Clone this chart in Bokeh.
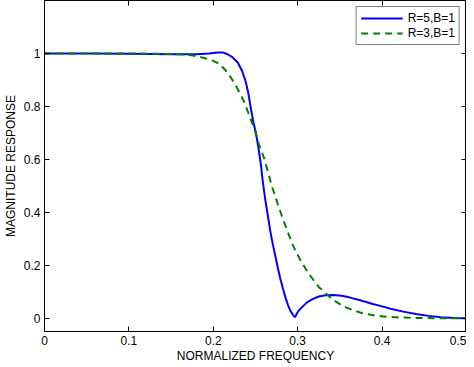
from bokeh.plotting import figure
from bokeh.models import LinearAxis, FixedTicker, Range1d, Legend, LegendItem
from bokeh.embed import file_html
from bokeh.resources import INLINE

# ---- data ----
blue_x = [0.00, 0.05, 0.10, 0.15, 0.18, 0.195, 0.205, 0.211, 0.217, 0.223, 0.229, 0.234,
          0.2385, 0.2415, 0.2445, 0.2475, 0.2505, 0.2535, 0.2565, 0.2585, 0.2615, 0.2645,
          0.2675, 0.2705, 0.2735, 0.2765, 0.2795, 0.2825, 0.2855, 0.2885, 0.2915, 0.2945,
          0.2970, 0.2990, 0.3015, 0.3055, 0.3110, 0.3175, 0.3250, 0.3330, 0.3420, 0.3520,
          0.3610, 0.3750, 0.3890, 0.4000, 0.4100, 0.4250, 0.4400, 0.4550, 0.4700, 0.4850, 0.5000]
blue_y = [1.000, 1.000, 0.999, 0.997, 0.997, 1.000, 1.004, 1.004, 0.997, 0.985, 0.966, 0.935,
          0.892, 0.850, 0.792, 0.740, 0.700, 0.643, 0.578, 0.520, 0.450, 0.390,
          0.330, 0.279, 0.235, 0.190, 0.148, 0.112, 0.078, 0.050, 0.027, 0.012,
          0.004, 0.018, 0.030, 0.043, 0.060, 0.072, 0.082, 0.087, 0.088, 0.085,
          0.079, 0.067, 0.054, 0.045, 0.036, 0.025, 0.016, 0.009, 0.004, 0.001, 0.000]

green_x = [0.00, 0.05, 0.10, 0.15, 0.17, 0.18, 0.19, 0.20, 0.207, 0.2168, 0.2227, 0.2287,
           0.2366, 0.2425, 0.2485, 0.2544, 0.2603, 0.2650, 0.2701, 0.2760, 0.2820, 0.2880,
           0.2938, 0.2990, 0.3045, 0.3136, 0.3255, 0.3340, 0.3410, 0.3490, 0.3570, 0.3670,
           0.3770, 0.3900, 0.4040, 0.4200, 0.4400, 0.4600, 0.4800, 0.5000]
green_y = [1.000, 1.000, 1.000, 0.998, 0.995, 0.990, 0.982, 0.972, 0.961, 0.929, 0.900, 0.867,
           0.817, 0.767, 0.717, 0.654, 0.604, 0.550, 0.492, 0.435, 0.379, 0.328,
           0.279, 0.245, 0.212, 0.166, 0.116, 0.092, 0.072, 0.055, 0.041, 0.029,
           0.019, 0.011, 0.006, 0.003, 0.001, 0.0005, 0.000, 0.000]

series_labels = ["R=5,B=1", "R=3,B=1"]
x_ticks = [0, 0.1, 0.2, 0.3, 0.4, 0.5]
x_tick_labels = ["0", "0.1", "0.2", "0.3", "0.4", "0.5"]
y_ticks = [0, 0.2, 0.4, 0.6, 0.8, 1.0]
y_tick_labels = ["0", "0.2", "0.4", "0.6", "0.8", "1"]

FONT = "Liberation Sans"

p = figure(output_backend="svg", toolbar_location=None,
           frame_width=422, frame_height=331,
           x_range=Range1d(0, 0.5), y_range=Range1d(-0.05, 1.2),
           min_border_left=0, min_border_right=0, min_border_top=0, min_border_bottom=0)
p.background_fill_color = "white"
p.border_fill_color = "white"
p.outline_line_color = "black"
p.grid.visible = False

def style_axis(ax, ticks, labels, show_labels):
    ax.ticker = FixedTicker(ticks=ticks)
    ax.major_tick_in = 5
    ax.major_tick_out = 0
    ax.minor_tick_line_color = None
    ax.axis_line_color = "black"
    ax.major_tick_line_color = "black"
    ax.major_label_text_font = FONT
    ax.major_label_text_color = "black"
    ax.major_label_text_font_size = "12px"
    ax.axis_label_text_font = FONT
    ax.axis_label_text_font_style = "normal"
    ax.axis_label_text_color = "black"
    ax.axis_label_text_font_size = "12px"
    if show_labels:
        ax.major_label_overrides = {t: l for t, l in zip(ticks, labels)}
        ax.major_label_standoff = 4
        ax.axis_label_standoff = 3
    else:
        ax.major_label_overrides = {t: "" for t in ticks}
        ax.major_label_standoff = 0

style_axis(p.xaxis[0], x_ticks, x_tick_labels, True)
style_axis(p.yaxis[0], y_ticks, y_tick_labels, True)
p.xaxis[0].axis_label = "NORMALIZED FREQUENCY"
p.yaxis[0].axis_label = "MAGNITUDE RESPONSE"
p.xaxis[0].major_label_standoff = 4
p.xaxis[0].axis_label_standoff = 1

ax_top = LinearAxis()
style_axis(ax_top, x_ticks, x_tick_labels, False)
p.add_layout(ax_top, "above")
ax_right = LinearAxis()
style_axis(ax_right, y_ticks, y_tick_labels, False)
p.add_layout(ax_right, "right")

r1 = p.line(blue_x, blue_y, line_color="#0000ff", line_width=2)
r2 = p.line(green_x, green_y, line_color="#008000", line_width=2, line_dash="7 5")

legend = Legend(items=[LegendItem(label=series_labels[0], renderers=[r1]),
                       LegendItem(label=series_labels[1], renderers=[r2])],
                location="top_right")
legend.border_line_color = "black"
legend.border_line_width = 1
legend.label_text_font = FONT
legend.label_text_font_size = "12px"
legend.label_text_color = "black"
legend.glyph_width = 42
legend.glyph_height = 14
legend.label_height = 14
legend.label_standoff = 5
legend.padding = 4
legend.spacing = 1
legend.margin = 6
legend.background_fill_alpha = 1
p.add_layout(legend, "center")

open("out.html", "w").write(file_html(p, INLINE))
